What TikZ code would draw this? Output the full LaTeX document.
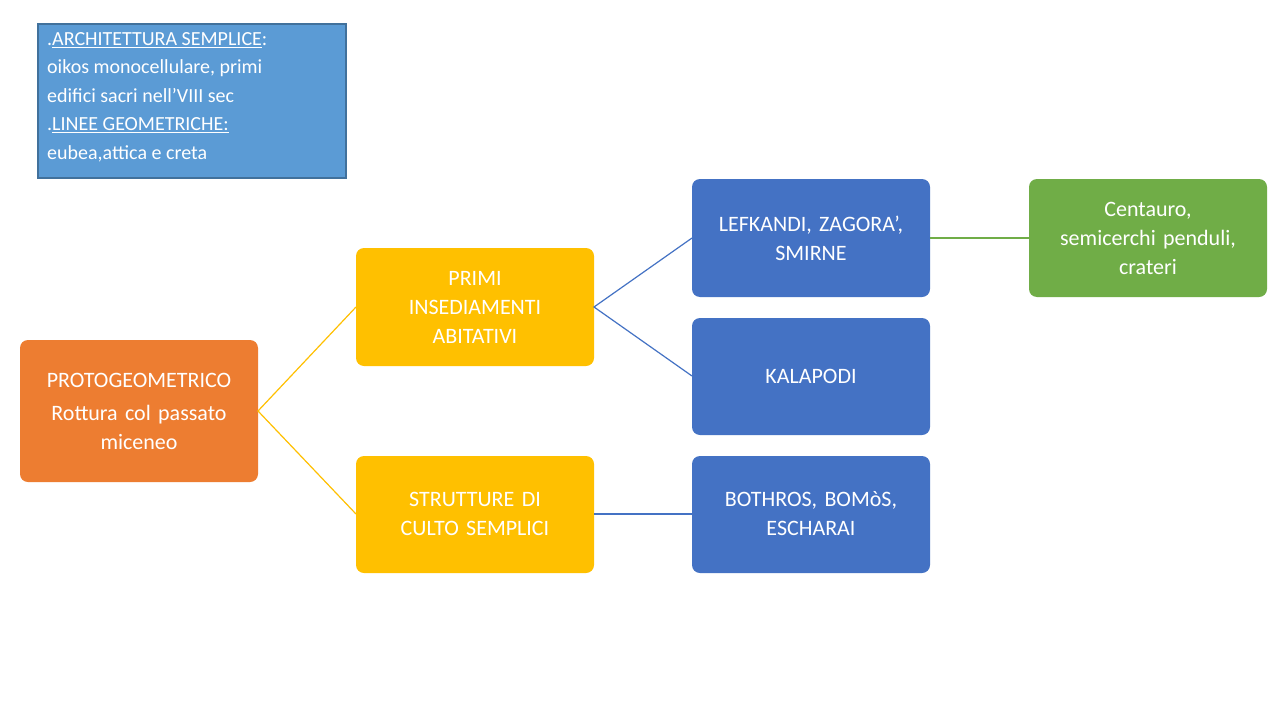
\documentclass[tikz,border=0pt]{standalone}
\usepackage{fontspec}
\setmainfont{Carlito}
\newcommand{\myul}[1]{\underline{#1}}
\definecolor{orng}{HTML}{ED7D31}
\definecolor{yel}{HTML}{FFC000}
\definecolor{blu}{HTML}{4472C4}
\definecolor{grn}{HTML}{70AD47}
\definecolor{lblu}{HTML}{5B9BD5}
\definecolor{dblu}{HTML}{41719C}
\begin{document}
\begin{tikzpicture}[x=1pt,y=-1pt,
  box/.style={rounded corners=8pt,text=white,align=center,minimum width=238pt,inner sep=4pt,
    font=\fontsize{22}{29}\selectfont,text width=230pt}]
\useasboundingbox (0,0) rectangle (1280,720);
\fill[white] (0,0) rectangle (1280,720);
\fill[box,fill=orng] (20,340) rectangle (258,482);
\node[box] (p) at (139,411) {PROTOGEOMETRICO\\[4pt]Rottura col passato\\miceneo};
\coordinate (pr) at (258,411);
\fill[box,fill=yel] (356,248) rectangle (594,366);
\node[box] (a) at (475,307) {PRIMI\\INSEDIAMENTI\\ABITATIVI};
\fill[box,fill=yel] (356,456) rectangle (594,573);
\node[box] (b) at (475,514) {STRUTTURE DI\\CULTO SEMPLICI};
\fill[box,fill=blu] (692,179) rectangle (930,297);
\node[box] (c) at (811,238) {LEFKANDI, ZAGORA',\\SMIRNE};
\fill[box,fill=blu] (692,318) rectangle (930,435);
\node[box] (d) at (811,376) {KALAPODI};
\fill[box,fill=blu] (692,456) rectangle (930,573);
\node[box] (e) at (811,514) {BOTHROS, BOMòS,\\ESCHARAI};
\fill[box,fill=grn] (1029,179) rectangle (1267,297);
\node[box] (f) at (1148,238) {Centauro,\\semicerchi penduli,\\crateri};
\coordinate (al) at (356,307); \coordinate (bl) at (356,514);
\coordinate (ar) at (594,307); \coordinate (br) at (594,514);
\coordinate (cl) at (692,238); \coordinate (dl) at (692,376); \coordinate (el) at (692,514);
\coordinate (cr) at (930,238); \coordinate (fl) at (1029,238);
\draw[yel,line width=1.2pt] (al) -- (pr) -- (bl);
\draw[blu,line width=1.2pt] (cl) -- (ar) -- (dl);
\draw[blu,line width=1.2pt] (br) -- (el);
\draw[grn,line width=1.2pt] (cr) -- (fl);
\draw[fill=lblu,draw=dblu,line width=1.2pt] (38,24) rectangle (346,178);
\node[anchor=north west,text=white,align=left,font=\fontsize{20}{28.5}\selectfont,inner sep=0pt] (n) at (47,32)
{.\myul{ARCHITETTURA SEMPLICE}:\\oikos monocellulare, primi\\edifici sacri nell'VIII sec\\.\myul{LINEE GEOMETRICHE:}\\eubea,attica e creta};
\end{tikzpicture}
\end{document}
